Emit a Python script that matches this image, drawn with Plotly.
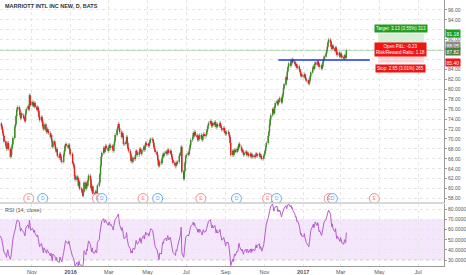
import pandas as pd
import plotly.graph_objects as go

# ---------------- data ----------------
title_text = "MARRIOTT INTL INC NEW, D, BATS"
rsi_title = "RSI (14, close)"

# daily closes, business days starting 2015-08-17
close_2015 = [
    # Aug 17 - Sep 11 (warm-up, left of the visible range)
    76.5, 76.8, 76.0, 75.0, 73.2, 70.0, 69.5, 71.8, 72.6, 72.3,
    71.5, 70.2, 71.6, 70.4, 71.0, 71.9, 72.4, 72.0, 72.8, 73.1,
    # Sep 14 - Sep 30
    72.6, 72.0, 71.2, 70.6, 69.5, 68.6, 68.0, 68.8, 69.2, 68.0, 66.4, 66.8, 68.2,
    # Oct
    68.9, 70.2, 72.4, 73.0, 74.6, 75.8, 76.4, 76.0, 74.9, 74.2, 75.1,
    74.8, 74.3, 74.0, 73.6, 75.2, 76.0, 76.6, 76.0, 78.8, 77.6, 76.8,
    # Nov
    77.4, 77.0, 76.6, 77.2, 76.5, 75.9, 76.3, 75.6, 74.5, 73.8, 74.4,
    73.5, 72.6, 72.0, 72.9, 71.8, 71.4, 72.0, 71.6, 71.2, 70.4,
    # Dec
    70.8, 69.6, 68.4, 69.5, 68.8, 68.0, 67.5, 67.9, 66.6, 66.2, 67.0, 66.4,
    65.6, 65.4, 66.8, 67.6, 68.6, 68.9, 68.7, 68.3, 68.8, 68.0, 67.0,
]
close_2016 = [
    # Jan
    67.0, 65.2, 65.0, 64.4, 62.6, 61.8, 62.4, 62.0, 60.6, 61.4, 60.0,
    59.8, 59.2, 58.6, 59.4, 61.2, 60.0, 61.0, 60.6, 61.6, 62.6,
    # Feb
    61.8, 60.2, 59.6, 60.4, 59.0, 58.8, 59.4, 59.0, 58.6, 60.6, 61.2,
    62.8, 64.6, 66.4, 67.2, 68.2, 67.4, 67.9, 68.6, 68.2, 67.6,
    # Mar
    68.4, 68.8, 68.2, 68.6, 68.0, 67.6, 68.8, 69.6, 70.8, 71.8, 72.4, 73.0,
    72.2, 71.4, 70.4, 71.2, 70.6, 69.0, 69.0, 69.4, 70.4, 69.2, 68.2,
    # Apr
    67.6, 66.8, 65.6, 66.0, 65.4, 66.2, 66.0, 66.8, 67.6, 67.2, 66.8,
    67.4, 68.0, 67.6, 67.0, 67.8, 68.4, 67.8, 68.6, 69.2, 68.8,
    # May
    69.0, 68.6, 69.2, 69.8, 70.0, 69.8, 69.2, 68.4, 67.8, 67.4, 66.8,
    65.8, 64.8, 64.6, 65.4, 65.2, 66.2, 66.8, 66.6, 67.2, 67.4, 67.0,
    # Jun
    67.4, 67.8, 67.2, 67.6, 67.0, 66.4, 65.8, 65.2, 64.8, 64.6, 65.2,
    65.0, 65.4, 66.6, 67.0, 67.2, 68.4, 63.4, 62.0, 63.6, 65.2, 66.4,
    # Jul
    66.8, 67.2, 67.0, 68.0, 68.8, 69.8, 70.4, 71.2, 70.6, 71.4, 70.8,
    70.4, 69.8, 70.6, 70.0, 70.8, 70.2, 69.8, 70.6, 71.0, 70.6,
    # Aug
    70.8, 71.4, 72.0, 72.6, 73.2, 73.6, 73.0, 72.6, 73.2, 72.8, 73.4, 72.8,
    72.4, 73.0, 72.6, 72.8, 73.2, 72.6, 72.2, 71.8, 72.2, 71.6, 71.2,
    # Sep
    71.0, 71.4, 71.4, 71.0, 70.4, 69.2, 66.8, 67.6, 66.8, 67.2, 67.8,
    67.4, 68.0, 67.8, 68.6, 69.0, 68.4, 67.6, 67.8, 67.4, 66.8, 67.2,
    # Oct
    67.4, 66.8, 67.2, 67.0, 66.6, 67.0, 66.4, 66.8, 66.4, 66.6, 66.4,
    66.8, 67.0, 66.6, 66.8, 67.0, 66.4, 66.6, 66.2, 66.0, 66.6,
    # Nov
    67.0, 67.6, 68.4, 69.2, 70.6, 71.4, 72.8, 74.0, 74.8, 76.0, 75.6,
    75.2, 76.4, 77.2, 77.6, 77.0, 77.8, 77.6, 78.2, 77.4, 78.4, 79.0,
    # Dec
    80.2, 81.0, 82.4, 82.0, 83.6, 84.4, 85.2, 84.8, 85.8, 85.4, 86.0,
    85.6, 85.2, 84.8, 85.0, 84.4, 84.6, 84.0, 83.6, 82.8, 83.0, 82.6,
]
close_2017 = [
    # Jan
    82.6, 83.0, 82.4, 82.0, 81.8, 81.4, 81.2, 81.8, 82.6, 83.4, 84.2,
    84.6, 84.2, 85.0, 85.4, 85.0, 85.6, 85.2, 84.6, 84.8, 84.2, 84.6,
    # Feb
    85.4, 86.0, 86.6, 87.2, 87.8, 88.6, 89.4, 90.0, 89.6, 88.6,
    88.2, 88.8, 88.2, 87.8, 88.4, 87.6, 87.0, 87.4, 86.8, 86.6,
    # Mar 1 - Mar 10
    87.2, 86.8, 86.4, 86.2, 86.8, 86.6, 86.4, 87.82,
]

event_dates = ["2015-10-27", "2015-11-18", "2016-02-12", "2016-02-19", "2016-04-24",
               "2016-05-17", "2016-07-24", "2016-09-18", "2016-11-06", "2016-11-20",
               "2017-02-11", "2017-02-16", "2017-04-23"]
event_kinds = ["E", "D", "E", "D", "E", "D", "E", "D", "E", "D", "E", "D", "E"]

month_ticks = ["2015-11-01", "2016-01-01", "2016-03-01", "2016-05-01", "2016-07-01", "2016-09-01",
               "2016-11-01", "2017-01-01", "2017-03-01", "2017-05-01", "2017-07-01"]
month_labels = ["Nov", "<b>2016</b>", "Mar", "May", "Jul", "Sep", "Nov", "<b>2017</b>", "Mar", "May", "Jul"]

price_ticks = [58, 60, 62, 64, 66, 68, 70, 72, 74, 76, 78, 80, 82, 84, 86, 88, 90, 92, 94, 96]
hidden_price_labels = [86, 88, 92]
rsi_ticks = [30, 40, 50, 60, 70, 80]

# position tool & drawings
entry_price = 88.05
target_price = 91.18
stop_price = 85.40
last_price = 87.82
hline_price = 85.9
hline_start, hline_end = "2016-11-23", "2017-04-16"
pos_start, pos_end = "2017-04-29", "2017-07-10"
target_text = "Target: 3.13 (3.55%) 313"
pnl_text = "Open P&L: -0.23<br>Risk/Reward Ratio: 1.18"
stop_text = "Stop: 2.65 (3.01%) 265"

# ---------------- derived series ----------------
closes = close_2015 + close_2016 + close_2017
dates = pd.bdate_range("2015-08-17", periods=len(closes))
opens = [closes[0]] + closes[:-1]
WICK = 0.4
body_hi = [max(o, c) for o, c in zip(opens, closes)]
body_lo = [min(o, c) for o, c in zip(opens, closes)]
highs = [h + WICK for h in body_hi]
lows = [l - WICK for l in body_lo]

s = pd.Series(closes, dtype=float)
d = s.diff()
up = d.clip(lower=0).ewm(alpha=1 / 14, adjust=False).mean()
dn = (-d).clip(lower=0).ewm(alpha=1 / 14, adjust=False).mean()
rsi = 100 - 100 / (1 + up / dn)

# ---------------- figure ----------------
W, H = 466, 275
XR = 445 / W
FONT = "Liberation Sans"
GREEN = "#3b8d22"
RED = "#ee1c1c"

fig = go.Figure()

fig.add_trace(go.Candlestick(
    x=dates, open=opens, high=highs, low=lows, close=closes,
    increasing=dict(line=dict(color="#b8b8b8", width=1), fillcolor="#b8b8b8"),
    decreasing=dict(line=dict(color="#b8b8b8", width=1), fillcolor="#b8b8b8"),
    whiskerwidth=0, showlegend=False, hoverinfo="skip", xaxis="x", yaxis="y"))
fig.add_trace(go.Candlestick(
    x=dates, open=opens, high=body_hi, low=body_lo, close=closes,
    increasing=dict(line=dict(color=GREEN, width=1), fillcolor=GREEN),
    decreasing=dict(line=dict(color=RED, width=1), fillcolor=RED),
    whiskerwidth=0, showlegend=False, xaxis="x", yaxis="y"))

fig.add_trace(go.Scatter(
    x=dates, y=rsi, mode="lines", line=dict(color="#b45ec9", width=1),
    showlegend=False, xaxis="x2", yaxis="y2"))

ev_colors = {"E": "#f28a8a", "D": "#55aef0"}
fig.add_trace(go.Scatter(
    x=event_dates, y=[58.0] * len(event_dates), mode="markers+text",
    text=event_kinds, textposition="middle center",
    textfont=dict(size=5, color=[ev_colors[k] for k in event_kinds], family=FONT),
    marker=dict(size=10, color="rgba(255,255,255,0.85)",
                line=dict(width=1, color=[ev_colors[k] for k in event_kinds])),
    showlegend=False, xaxis="x", yaxis="y"))

shapes = []
# RSI band
shapes.append(dict(type="rect", xref="paper", yref="y2", x0=0, x1=XR, y0=30, y1=70,
                   fillcolor="#f4e6fb", line=dict(width=0), layer="below"))
for v in (70, 30):
    shapes.append(dict(type="line", xref="paper", yref="y2", x0=0, x1=XR, y0=v, y1=v,
                       line=dict(color="#d6c6dc", width=1, dash="3px,3px"), layer="below"))
# position tool
shapes.append(dict(type="rect", xref="x", yref="y", x0=pos_start, x1=pos_end,
                   y0=entry_price, y1=target_price, fillcolor="#d6efd6", line=dict(width=0), layer="below"))
shapes.append(dict(type="rect", xref="x", yref="y", x0=pos_start, x1=pos_end,
                   y0=stop_price, y1=entry_price, fillcolor="#fad4d4", line=dict(width=0), layer="below"))
# last price line
shapes.append(dict(type="line", xref="paper", yref="y", x0=0, x1=XR, y0=last_price, y1=last_price,
                   line=dict(color="#bcdcbc", width=1), layer="below"))
# blue horizontal line
shapes.append(dict(type="line", xref="x", yref="y", x0=hline_start, x1=hline_end,
                   y0=hline_price, y1=hline_price, line=dict(color="#1d35f0", width=1.5)))
# pane separator
sep_y = 1 - 204.5 / H
shapes.append(dict(type="line", xref="paper", yref="paper", x0=0, x1=XR, y0=sep_y, y1=sep_y,
                   line=dict(color="#b0b0b0", width=1)))

ann = []
ann.append(dict(text="<b>" + title_text + "</b>", xref="paper", yref="paper", x=3 / W, y=1 - 1.5 / H,
                xanchor="left", yanchor="top", showarrow=False,
                font=dict(size=5.5, color="#333", family=FONT)))
ann.append(dict(text=rsi_title, xref="paper", yref="paper", x=3 / W, y=1 - 207 / H,
                xanchor="left", yanchor="top", showarrow=False,
                font=dict(size=5.5, color="#555", family=FONT)))
mid_date = "2017-06-04"
ann.append(dict(text=target_text, x=mid_date, y=target_price, xref="x", yref="y", yanchor="bottom",
                showarrow=False, bgcolor="#1f9e1f", borderpad=1, yshift=1,
                font=dict(size=4.5, color="white", family=FONT)))
ann.append(dict(text=pnl_text, x=mid_date, y=entry_price, xref="x", yref="y", yanchor="middle",
                showarrow=False, bgcolor="#f01414", borderpad=1,
                font=dict(size=4.5, color="white", family=FONT)))
ann.append(dict(text=stop_text, x=mid_date, y=stop_price, xref="x", yref="y", yanchor="top",
                showarrow=False, bgcolor="#f01414", borderpad=1, yshift=-1,
                font=dict(size=4.5, color="white", family=FONT)))
# right axis price labels
axis_labels = [(target_price, "#1f9e1f", 0), (entry_price, "#8a8a8a", 3.5),
               (last_price, "#4f7f3f", -1), (stop_price, "#f01414", 0)]
for p, col, ys in axis_labels:
    ann.append(dict(text="%.2f" % p, x=XR, y=p, xref="paper", yref="y", xanchor="left",
                    yanchor="middle", xshift=1, yshift=ys, showarrow=False, bgcolor=col,
                    borderpad=0.5, font=dict(size=5, color="white", family=FONT)))

price_text = ["" if v in hidden_price_labels else "%.2f" % v for v in price_ticks]

fig.update_layout(
    width=W, height=H, margin=dict(l=0, r=0, t=0, b=0),
    paper_bgcolor="white", plot_bgcolor="white",
    font=dict(family=FONT, size=5.5, color="#555"),
    shapes=shapes, annotations=ann,
    xaxis=dict(domain=[0, XR], anchor="y", range=["2015-09-11 17:00", "2017-08-10 20:00"],
               rangeslider=dict(visible=False), matches="x2", showticklabels=False,
               tickvals=month_ticks, showgrid=True, gridcolor="#e6e6e6", griddash="3px,3px",
               gridwidth=1, zeroline=False, showline=False),
    yaxis=dict(domain=[1 - 204 / H, 1], range=[57.2, 98], side="right", anchor="x",
               tickvals=price_ticks, ticktext=price_text, showgrid=True, gridcolor="#e6e6e6",
               griddash="3px,3px", showline=True, linecolor="#9a9a9a", ticks="outside",
               ticklen=2, tickcolor="#9a9a9a", zeroline=False, tickfont=dict(size=5)),
    xaxis2=dict(domain=[0, XR], anchor="y2", range=["2015-09-11 17:00", "2017-08-10 20:00"],
                tickvals=month_ticks, ticktext=month_labels, showgrid=True, gridcolor="#e6e6e6",
                griddash="3px,3px", showline=True, linecolor="#9a9a9a", ticks="",
                zeroline=False, tickfont=dict(size=5.5)),
    yaxis2=dict(domain=[1 - 268 / H, 1 - 205 / H], range=[24.1, 85.9], side="right", anchor="x2",
                tickvals=rsi_ticks, ticktext=["%.4f" % v for v in rsi_ticks], showgrid=True,
                gridcolor="#e6e6e6", griddash="3px,3px", showline=True, linecolor="#9a9a9a",
                ticks="outside", ticklen=2, tickcolor="#9a9a9a", zeroline=False,
                tickfont=dict(size=5)),
)

fig.write_html("out.html")
